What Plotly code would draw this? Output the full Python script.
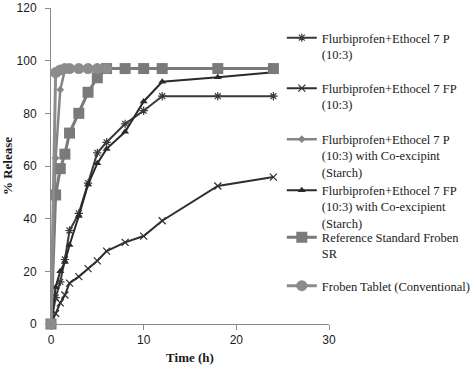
import plotly.graph_objects as go

# ---------------- data ----------------
t_full = [0, 0.5, 1, 1.5, 2, 3, 4, 5, 6, 8, 10, 12, 18, 24]

p_ethocel = [0, 10, 16, 24.5, 35.5, 42, 53.5, 65, 69, 76, 81, 86.5, 86.5, 86.5]
fp_ethocel = [0, 4, 8, 11, 15.5, 18, 21, 24, 27.7, 31, 33.4, 39.2, 52.4, 55.8]
p_starch = [0, 63, 89, 96.5, 97, 97, 97, 97, 97, 97, 97, 97, 97, 97]
fp_starch = [0, 14, 20, 23.5, 30, 41, 53, 61, 66.5, 73, 84.5, 92, 93.7, 95.6]
froben_sr = [0, 49, 59, 64.5, 72.5, 80, 88, 93.5, 97, 97, 97, 97, 97, 97]

t_tablet = [0, 0.5, 1, 1.5, 2, 3, 4, 5, 6]
froben_tablet = [0, 95.5, 96.5, 97, 97, 97, 97, 97, 97]

names = [
    "Flurbiprofen+Ethocel 7 P<br>(10:3)",
    "Flurbiprofen+Ethocel 7 FP<br>(10:3)",
    "Flurbiprofen+Ethocel 7 P<br>(10:3) with Co-excipint<br>(Starch)",
    "Flurbiprofen+Ethocel 7 FP<br>(10:3) with Co-excipient<br>(Starch)",
    "Reference Standard Froben<br>SR",
    "Froben Tablet (Conventional)",
]

x_ticks = [0, 10, 20, 30]
y_ticks = [0, 20, 40, 60, 80, 100, 120]

# ---------------- styles ----------------
series = [
    (t_full, p_ethocel, dict(color="#3a3a3a", width=2),
     dict(symbol="asterisk-open", size=7, line=dict(color="#5a5a5a", width=1.2))),
    (t_full, fp_ethocel, dict(color="#2e2e2e", width=2),
     dict(symbol="x-thin-open", size=7, line=dict(color="#3a3a3a", width=1.2))),
    (t_full, p_starch, dict(color="#858585", width=2.5),
     dict(symbol="diamond", size=6, color="#858585")),
    (t_full, fp_starch, dict(color="#2a2a2a", width=2),
     dict(symbol="triangle-up", size=7, color="#2a2a2a")),
    (t_full, froben_sr, dict(color="#7a7a7a", width=3),
     dict(symbol="square", size=11, color="#7a7a7a")),
    (t_tablet, froben_tablet, dict(color="#8c8c8c", width=3),
     dict(symbol="circle", size=11, color="#8c8c8c")),
]

legend_top_px = [23, 73.5, 124.5, 175.5, 222.5, 271]  # top of each legend block (px)
legend_left_px = 282
plot_top, plot_bottom = 8, 324
plot_left, plot_right = 50.7, 329.3
FIG_W, FIG_H = 500, 367  # drawn wider; the page window shows the left 474 px

fig = go.Figure()
legend_layouts = {}
for i, ((xs, ys, ln, mk), nm) in enumerate(zip(series, names)):
    lname = "legend" if i == 0 else f"legend{i+1}"
    fig.add_trace(go.Scatter(
        x=xs, y=ys, name=nm, mode="lines+markers",
        line=ln, marker=mk, cliponaxis=False, legend=lname,
    ))
    ypaper = (plot_bottom - legend_top_px[i]) / (plot_bottom - plot_top)
    legend_layouts[lname] = dict(
        x=(legend_left_px - plot_left) / (plot_right - plot_left), xanchor="left",
        y=ypaper, yanchor="top",
        bgcolor="rgba(0,0,0,0)", borderwidth=0,
        font=dict(family="Liberation Serif", size=12.5, color="#1a1a1a"),
        valign="top", itemwidth=30, tracegroupgap=0,
    )

axis_common = dict(
    showgrid=False, zeroline=False, showline=True, linecolor="#8a8a8a",
    linewidth=1, ticks="outside", tickcolor="#8a8a8a", ticklen=5,
    automargin=False,
    tickfont=dict(family="Liberation Sans", size=12, color="#1a1a1a"),
)

fig.update_layout(
    width=FIG_W, height=FIG_H,
    margin=dict(l=plot_left, r=FIG_W - plot_right, t=plot_top, b=FIG_H - plot_bottom),
    paper_bgcolor="white", plot_bgcolor="white",
    showlegend=True,
    xaxis=dict(range=[0, 30], tickvals=x_ticks, **axis_common,
               title=dict(text="<b>Time (h)</b>", standoff=6,
                          font=dict(family="Liberation Serif", size=13, color="#1a1a1a"))),
    yaxis=dict(range=[0, 120], tickvals=y_ticks, ticklabelstandoff=6, **axis_common,
               title=dict(text="<b>% Release</b>", standoff=8,
                          font=dict(family="Liberation Serif", size=13, color="#1a1a1a"))),
    **legend_layouts,
)

fig.write_html(
    "out.html",
    config={"displayModeBar": False},
    post_script="document.body.style.margin='0';document.body.style.overflow='hidden';",
)
